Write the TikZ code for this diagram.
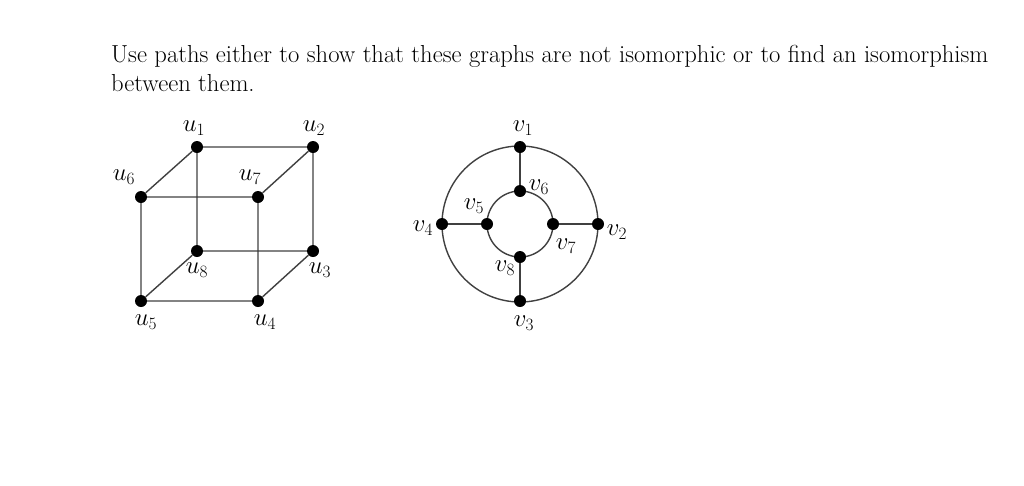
\documentclass[tikz,border=0pt]{standalone}
\begin{document}
\begin{tikzpicture}[x=1pt,y=-1pt,
  vtx/.style={circle,fill=black,inner sep=0pt,minimum size=12pt},
  lab/.style={inner sep=0pt,font=\fontsize{23}{25}\selectfont},
  edge/.style={line width=1.4pt,gray!50!black}]
\useasboundingbox (0,0) rectangle (1024,485);
\node[anchor=north west,inner sep=0pt,align=left,font=\fontsize{24.6}{29}\selectfont] (txt) at (111,45)
 {Use paths either to show that these graphs are not isomorphic or to find an isomorphism\\between them.};
% cube
\node[vtx] (u1) at (197,147) {};
\node[vtx] (u2) at (313,147) {};
\node[vtx] (u6) at (141,197) {};
\node[vtx] (u7) at (258,197) {};
\node[vtx] (u8) at (197,251) {};
\node[vtx] (u3) at (313,251) {};
\node[vtx] (u5) at (141,301) {};
\node[vtx] (u4) at (258,301) {};
\draw[edge] (u1)--(u2) (u1)--(u6) (u1)--(u8) (u2)--(u7) (u2)--(u3)
 (u6)--(u7) (u6)--(u5) (u7)--(u4) (u8)--(u3) (u8)--(u5) (u3)--(u4) (u5)--(u4);
\node[lab] (lu1) at (194,128) {$u_1$};
\node[lab] (lu2) at (314,128) {$u_2$};
\node[lab] (lu6) at (124,177) {$u_6$};
\node[lab] (lu7) at (250,177) {$u_7$};
\node[lab] (lu8) at (197,270) {$u_8$};
\node[lab] (lu3) at (320,270) {$u_3$};
\node[lab] (lu5) at (146,322) {$u_5$};
\node[lab] (lu4) at (265,322) {$u_4$};
% ring
\coordinate (c) at (520,224);
\draw[edge] (c) circle[radius=78];
\draw[edge] (c) circle[radius=33];
\node[vtx] (v1) at (520,147) {};
\node[vtx] (v2) at (598,224) {};
\node[vtx] (v3) at (520,301) {};
\node[vtx] (v4) at (442,224) {};
\node[vtx] (v5) at (487,224) {};
\node[vtx] (v6) at (520,191) {};
\node[vtx] (v7) at (553,224) {};
\node[vtx] (v8) at (520,257) {};
\draw[edge] (v1)--(v6) (v4)--(v5) (v7)--(v2) (v8)--(v3);
\node[lab] (lv1) at (523,128) {$v_1$};
\node[lab] (lv6) at (539,187) {$v_6$};
\node[lab] (lv5) at (474,206) {$v_5$};
\node[lab] (lv4) at (423,228) {$v_4$};
\node[lab] (lv2) at (617,232) {$v_2$};
\node[lab] (lv7) at (566,246) {$v_7$};
\node[lab] (lv8) at (505,268) {$v_8$};
\node[lab] (lv3) at (524,323) {$v_3$};
\end{tikzpicture}
\end{document}
